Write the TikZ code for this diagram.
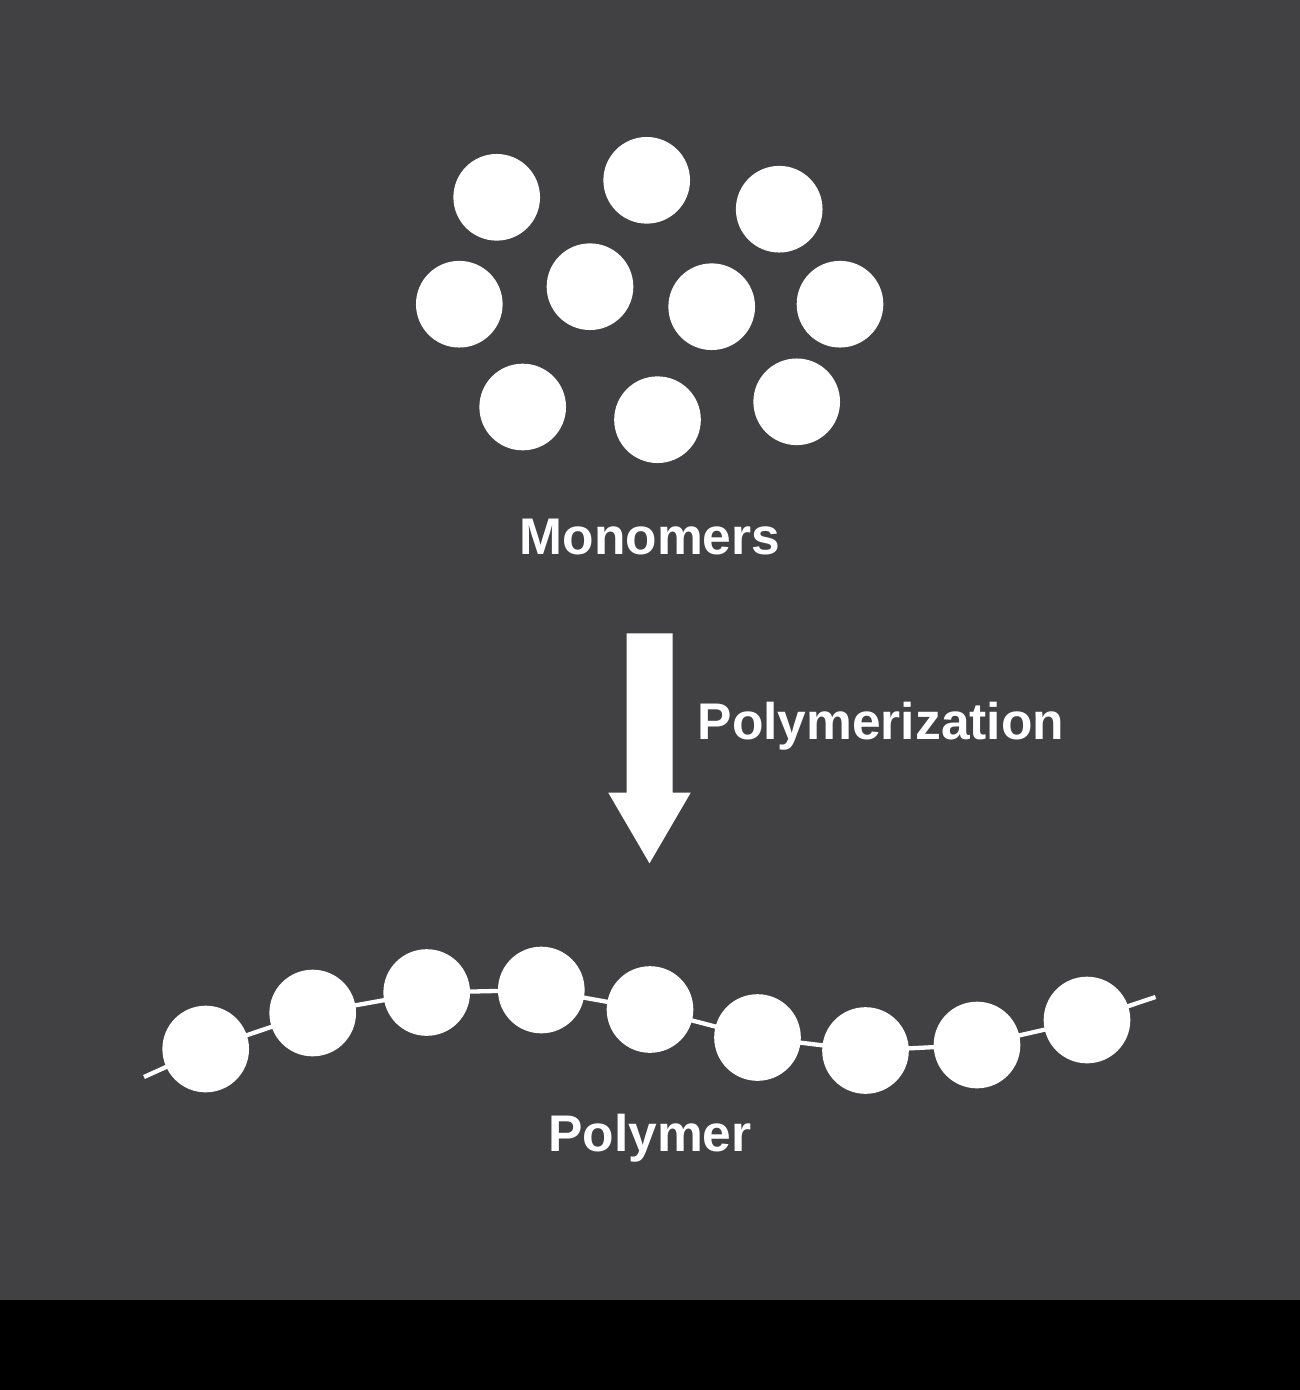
\documentclass[tikz,border=0pt]{standalone}
\usepackage{fontspec}
\setmainfont{Liberation Sans}
\usetikzlibrary{calc}

\definecolor{slate}{RGB}{65,65,67}

\begin{document}
\begin{tikzpicture}[x=0.01cm, y=-0.01cm]
  % styles: one unit is one pixel of the 1300 x 1390 canvas, y runs down
  \tikzset{
    bead/.style={circle, fill=white, draw=none, inner sep=0pt, outer sep=0pt,
      minimum size=0.866cm},
    bond-line/.style={white, line width=0.043cm},
    caption-text/.style={white, inner sep=0pt,
      font=\fontsize{14.65pt}{17pt}\selectfont\bfseries}
  }

  % canvas and bottom strip
  \fill[slate] (0,0) rectangle (1300,1300);
  \fill[black] (0,1300) rectangle (1300,1390);
  \useasboundingbox (0,0) rectangle (1300,1390);

  % loose monomers
  \foreach \cx/\cy [count=\i] in {
    496.7/197.3,
    646.7/180.3,
    779.2/209.2,
    459.3/304.2,
    590/286.7,
    711.7/306.7,
    840/304.2,
    522.7/407,
    657.5/419.7,
    796.7/401.8
  }{
    \node[bead] (m\i) at (\cx,\cy) {};
  }

  \node[caption-text, anchor=base] (monomers) at (650,554.3) {Monomers};

  % block arrow
  \coordinate (arrow-top) at (649.7,633.3);
  \coordinate (arrow-tip) at (649.5,863.3);
  \fill[white] ($(arrow-top)+(-23,0)$) -- ($(arrow-top)+(23,0)$)
    -- (672.7,792.7) -- (690.7,792.7) -- (arrow-tip)
    -- (608.3,792.7) -- (626.7,792.7) -- cycle;

  \node[caption-text, anchor=base west] (polymerization) at (697,739.3) {Polymerization};

  % polymer chain
  \foreach \cx/\cy [count=\i] in {
    205.7/1049,
    312.7/1013,
    426.7/992.5,
    541.3/990,
    650/1009.5,
    757.5/1037.5,
    865.5/1050.5,
    977/1045,
    1087/1020
  }{
    \coordinate (c\i) at (\cx,\cy);
  }
  \coordinate (chain-start) at (144,1077);
  \coordinate (chain-end) at (1155.5,997);

  \draw[bond-line] (chain-start) \foreach \i in {1,...,9}{ -- (c\i) } -- (chain-end);

  \foreach \i in {1,...,9}{
    \node[bead] (p\i) at (c\i) {};
  }

  \node[caption-text, anchor=base] (polymer) at (650,1151.7) {Polymer};
\end{tikzpicture}
\end{document}
